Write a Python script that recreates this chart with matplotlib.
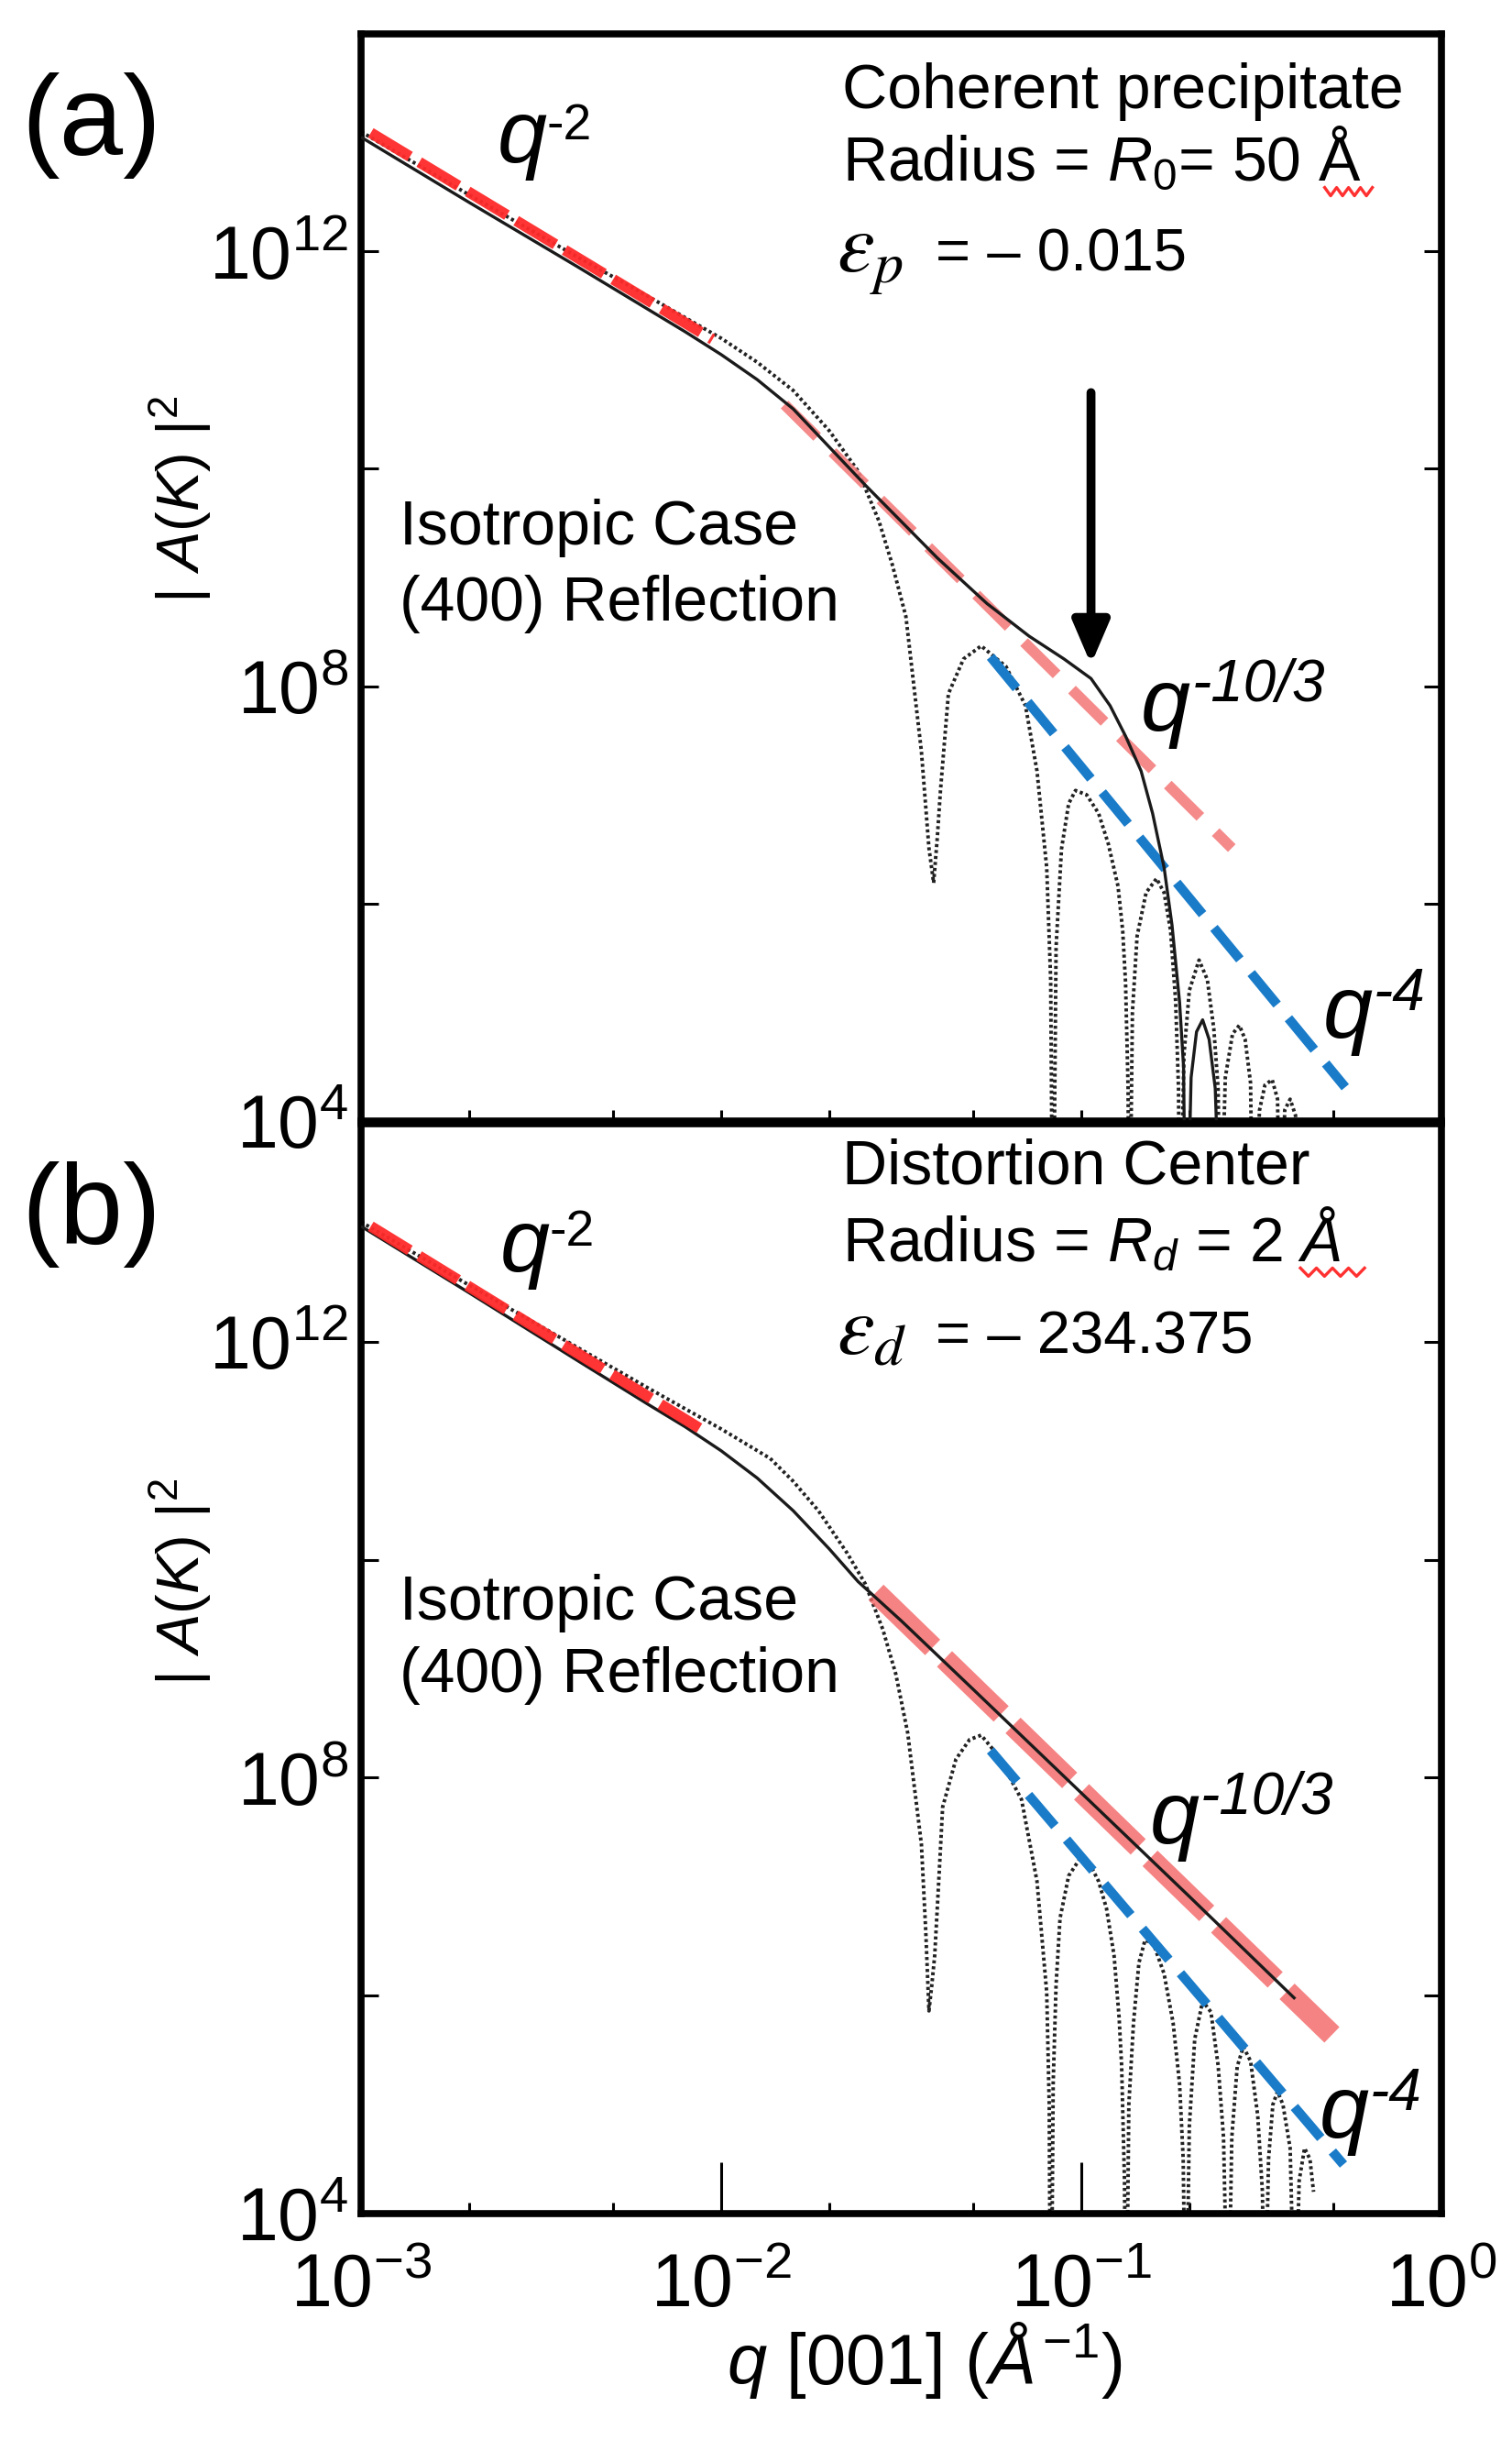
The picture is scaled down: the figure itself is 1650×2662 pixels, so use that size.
import numpy as np
import matplotlib
matplotlib.use("Agg")
import matplotlib.pyplot as plt
from matplotlib.lines import Line2D
from matplotlib.ticker import FixedLocator, FixedFormatter, NullFormatter, NullLocator

plt.rcParams['font.family'] = ['Liberation Sans', 'DejaVu Sans']
plt.rcParams['mathtext.fontset'] = 'custom'
plt.rcParams['mathtext.rm'] = 'Liberation Sans'
plt.rcParams['mathtext.it'] = 'Liberation Sans:italic'
plt.rcParams['mathtext.bf'] = 'Liberation Sans:bold'
plt.rcParams['mathtext.sf'] = 'Liberation Sans'
plt.rcParams['lines.scale_dashes'] = False

# ---------------- data (log10 values) ----------------
x_decades = [-3, -2, -1, 0]
x_tick_labels = [r'$10^{-3}$', r'$10^{-2}$', r'$10^{-1}$', r'$10^{0}$']
x_minor = [2e-3, 5e-3, 2e-2, 5e-2, 2e-1, 5e-1]
y_major = [4, 6, 8, 10, 12, 14]
y_tick_labels = [r'$10^{4}$', '', r'$10^{8}$', '', r'$10^{12}$', '']

# ---- panel (a): coherent precipitate ----
a_solid_logq = [-3.0, -2.7, -2.4, -2.2, -2.1, -2.0, -1.9, -1.8, -1.7, -1.6, -1.4, -1.262, -1.145,
                -1.048, -0.973, -0.920, -0.877, -0.834, -0.802, -0.770, -0.748, -0.727, -0.716, -0.711]
a_solid_logI = [13.05, 12.45, 11.86, 11.46, 11.26, 11.05, 10.82, 10.55, 10.20, 9.85, 9.18, 8.76, 8.46,
                8.25, 8.07, 7.82, 7.54, 7.22, 6.83, 6.33, 5.80, 5.09, 4.50, 3.00]
a_lobe_logq = [-0.705, -0.695, -0.680, -0.663, -0.645, -0.628, -0.615]
a_lobe_logI = [3.00, 4.40, 4.82, 4.93, 4.75, 4.30, 3.00]
a_dot_logq = [-3.0, -2.7, -2.4, -2.2, -2.0, -1.9, -1.8, -1.7, -1.62, -1.562, -1.525, -1.487,
              -1.444, -1.423, -1.410, -1.400, -1.391, -1.369, -1.327, -1.278, -1.209, -1.155,
              -1.123, -1.096, -1.085, -1.080,
              -1.077, -1.070, -1.055, -1.035, -1.016, -0.985, -0.952, -0.925, -0.898, -0.885,
              -0.877, -0.870, -0.868,
              -0.865, -0.858, -0.845, -0.820, -0.791, -0.770, -0.752, -0.738, -0.730, -0.727,
              -0.724, -0.715, -0.700, -0.673, -0.650, -0.632, -0.620, -0.615,
              -0.612, -0.600, -0.580, -0.561, -0.545, -0.530, -0.524,
              -0.521, -0.505, -0.490, -0.470, -0.455, -0.449,
              -0.445, -0.435, -0.420, -0.405, -0.400]
a_dot_logI = [13.10, 12.52, 11.95, 11.58, 11.20, 10.98, 10.72, 10.35, 9.98, 9.52, 9.12, 8.64,
              7.40, 6.51, 6.19, 6.60, 7.04, 7.93, 8.25, 8.37, 8.18, 7.82,
              7.22, 6.33, 5.30, 3.00,
              3.00, 5.60, 6.50, 6.92, 7.04, 7.00, 6.83, 6.55, 6.16, 5.75,
              5.27, 4.30, 3.00,
              3.00, 5.00, 5.70, 6.10, 6.23, 6.10, 5.75, 5.10, 4.30, 3.00,
              3.00, 4.60, 5.20, 5.48, 5.30, 4.85, 4.30, 3.00,
              3.00, 4.40, 4.80, 4.88, 4.75, 4.35, 3.00,
              3.00, 4.10, 4.33, 4.38, 4.20, 3.00,
              3.00, 4.10, 4.20, 4.05, 3.00]
a_q2_logq, a_q2_logI = [-2.973, -2.024], [13.09, 11.19]
a_q103_logq, a_q103_logI = [-1.824, -0.582], [10.59, 6.51]
a_q4_logq, a_q4_logI = [-1.252, -0.267], [8.27, 4.31]
a_arrow_logq, a_arrow_logI_top, a_arrow_logI_tip = -0.973, 10.70, 8.20

# ---- panel (b): distortion center ----
b_solid_logq = [-3.0, -2.7, -2.4, -2.2, -2.1, -2.0, -1.9, -1.8, -1.7, -1.62, -1.5, -1.3, -1.0, -0.7, -0.406]
b_solid_logI = [13.06, 12.45, 11.83, 11.42, 11.22, 11.00, 10.75, 10.45, 10.10, 9.80, 9.44, 8.81, 7.86, 6.91, 5.97]
b_dot_logq = [-3.0, -2.7, -2.4, -2.2, -2.0, -1.864, -1.8, -1.73, -1.65, -1.6, -1.551, -1.515,
              -1.482, -1.444, -1.432, -1.423, -1.415, -1.407, -1.395, -1.385, -1.348, -1.310,
              -1.278, -1.230, -1.166, -1.123, -1.096, -1.089, -1.086,
              -1.083, -1.078, -1.070, -1.059, -1.035, -1.005, -0.975, -0.952, -0.930, -0.909,
              -0.895, -0.888, -0.880, -0.877,
              -0.874, -0.868, -0.855, -0.840, -0.823, -0.800, -0.770, -0.745, -0.727, -0.717, -0.711,
              -0.708, -0.700, -0.685, -0.663, -0.640, -0.620, -0.605, -0.594,
              -0.591, -0.582, -0.567, -0.550, -0.530, -0.510, -0.497, -0.492,
              -0.489, -0.480, -0.468, -0.455, -0.440, -0.420, -0.408,
              -0.405, -0.395, -0.380, -0.365, -0.355]
b_dot_logI = [13.10, 12.52, 11.95, 11.57, 11.20, 10.93, 10.72, 10.45, 10.06, 9.78, 9.36, 8.95,
              8.41, 7.39, 6.60, 5.86, 6.10, 6.37, 7.10, 7.73, 8.17, 8.35,
              8.39, 8.20, 7.80, 7.05, 6.03, 5.00, 3.00,
              3.00, 5.20, 6.10, 6.71, 7.10, 7.25, 7.20, 7.05, 6.80, 6.37,
              5.80, 5.36, 4.30, 3.00,
              3.00, 5.00, 5.75, 6.30, 6.51, 6.48, 6.20, 5.75, 5.19, 4.50, 3.00,
              3.00, 4.80, 5.60, 5.95, 5.85, 5.36, 4.70, 3.00,
              3.00, 4.70, 5.35, 5.53, 5.40, 4.90, 4.20, 3.00,
              3.00, 4.50, 5.00, 5.12, 5.00, 4.60, 3.00,
              3.00, 4.30, 4.60, 4.50, 4.20]
b_q2_logq, b_q2_logI = [-2.973, -2.037], [13.06, 11.16]
b_q103_logq, b_q103_logI = [-1.570, -0.304], [9.70, 5.64]
b_q4_logq, b_q4_logI = [-1.252, -0.272], [8.25, 4.45]


def p(v):
    return 10.0 ** np.asarray(v, dtype=float)


# ---------------- figure ----------------
fig = plt.figure(figsize=(16.5, 26.62), dpi=100)
ax_a = fig.add_axes([0.2388, 0.5406, 0.7145, 0.4455])
ax_b = fig.add_axes([0.2388, 0.0928, 0.7145, 0.4466])

SOLID = dict(color='#1a1a1a', lw=2.4, solid_capstyle='butt')
DOT = dict(color='#222222', lw=2.8, dashes=(2.4, 2.3))
RED1 = dict(color='#ff2a2a', lw=8.5, dashes=(36, 8.5), alpha=0.95)
BLUE = dict(color='#1a7cc9', lw=7.5, dashes=(32, 14))

for ax in (ax_a, ax_b):
    ax.set_xscale('log')
    ax.set_yscale('log')
    ax.set_xlim(1e-3, 1.0)
    ax.set_ylim(1e4, 1e14)
    ax.yaxis.set_major_locator(FixedLocator(p(y_major)))
    ax.yaxis.set_major_formatter(FixedFormatter(y_tick_labels))
    ax.yaxis.set_minor_locator(NullLocator())
    ax.xaxis.set_major_locator(FixedLocator(p(x_decades)))
    ax.xaxis.set_minor_locator(FixedLocator(x_minor))
    ax.xaxis.set_minor_formatter(NullFormatter())
    ax.tick_params(axis='y', which='major', direction='in', length=14, width=2.2,
                   left=True, right=True, labelsize=58, pad=10)
    for s in ax.spines.values():
        s.set_linewidth(5.5)
    ax.patch.set_alpha(0)

ax_a.tick_params(axis='x', which='both', direction='in', length=9, width=2.2,
                 top=False, bottom=True, labelbottom=False)
ax_b.xaxis.set_major_formatter(FixedFormatter(x_tick_labels))
ax_b.tick_params(axis='x', which='major', direction='in', length=40, width=2.2,
                 top=False, labelsize=58, pad=30)
ax_b.tick_params(axis='x', which='minor', direction='in', length=9, width=2.2, top=False)

# ---- panel (a) curves ----
ax_a.plot(p(a_dot_logq), p(a_dot_logI), zorder=2, **DOT)
ax_a.plot(p(a_solid_logq), p(a_solid_logI), zorder=4, **SOLID)
ax_a.plot(p(a_lobe_logq), p(a_lobe_logI), zorder=4, **SOLID)
ax_a.plot(p(a_q2_logq), p(a_q2_logI), zorder=5, **RED1)
ax_a.plot(p(a_q103_logq), p(a_q103_logI), color='#f47d7d', lw=8.5, dashes=(36, 17),
          alpha=0.9, zorder=3)
ax_a.plot(p(a_q4_logq), p(a_q4_logI), zorder=3, **BLUE)
ax_a.annotate('', xy=(10 ** a_arrow_logq, 10 ** a_arrow_logI_tip),
              xytext=(10 ** a_arrow_logq, 10 ** a_arrow_logI_top),
              arrowprops=dict(arrowstyle='-|>,head_length=1.4,head_width=0.6',
                              mutation_scale=20, lw=7, color='black',
                              shrinkA=0, shrinkB=0), zorder=6)

# ---- panel (b) curves ----
ax_b.plot(p(b_dot_logq), p(b_dot_logI), zorder=2, **DOT)
ax_b.plot(p(b_solid_logq), p(b_solid_logI), zorder=4, **SOLID)
ax_b.plot(p(b_q2_logq), p(b_q2_logI), zorder=5, **RED1)
ax_b.plot(p(b_q103_logq), p(b_q103_logI), color='#f36464', lw=17, dashes=(62, 13),
          alpha=0.8, zorder=3)
ax_b.plot(p(b_q4_logq), p(b_q4_logI), zorder=3, **BLUE)


# ---------------- text ----------------
def power_label(ax, qx, qy, exp, ey, esize=46, estyle='italic', gap=0.14):
    ax.text(10 ** qx, 10 ** qy, 'q', style='italic', fontsize=70,
            ha='left', va='baseline', zorder=7)
    ax.text(10 ** (qx + gap), 10 ** ey, exp, style=estyle, fontsize=esize,
            ha='left', va='baseline', zorder=7)


power_label(ax_a, -2.621, 12.82, '-2', 13.03, esize=40, estyle='normal', gap=0.135)
power_label(ax_a, -0.834, 7.59, '-10/3', 7.86)
power_label(ax_a, -0.330, 4.77, '-4', 5.02)
power_label(ax_b, -2.613, 12.65, '-2', 12.88, esize=40, estyle='normal', gap=0.135)
power_label(ax_b, -0.810, 7.40, '-10/3', 7.67)
power_label(ax_b, -0.338, 4.70, '-4', 4.95)

TXT = dict(fontsize=49, ha='left', va='baseline')
ax_a.text(0.445, 0.932, 'Coherent precipitate', transform=ax_a.transAxes, **TXT)
rad_a = ax_a.text(0.445, 0.865, r'Radius = $\mathit{R_0}$= 50 Å', transform=ax_a.transAxes, **TXT)
ax_a.text(0.440, 0.782, r'$\varepsilon_p$', transform=ax_a.transAxes,
          math_fontfamily='stix', fontsize=66, ha='left', va='baseline')
ax_a.text(0.532, 0.782, '= – 0.015', transform=ax_a.transAxes, fontsize=47,
          ha='left', va='baseline')
ax_a.text(0.036, 0.530, 'Isotropic Case', transform=ax_a.transAxes, **TXT)
ax_a.text(0.036, 0.460, '(400) Reflection', transform=ax_a.transAxes, **TXT)

ax_b.text(0.445, 0.945, 'Distortion Center', transform=ax_b.transAxes, **TXT)
rad_b = ax_b.text(0.445, 0.874, r'Radius = $\mathit{R_d}$ = 2 $\mathit{Å}$', transform=ax_b.transAxes, **TXT)
ax_b.text(0.440, 0.789, r'$\varepsilon_d$', transform=ax_b.transAxes,
          math_fontfamily='stix', fontsize=66, ha='left', va='baseline')
ax_b.text(0.532, 0.789, '= – 234.375', transform=ax_b.transAxes, fontsize=47,
          ha='left', va='baseline')
ax_b.text(0.036, 0.545, 'Isotropic Case', transform=ax_b.transAxes, **TXT)
ax_b.text(0.036, 0.479, '(400) Reflection', transform=ax_b.transAxes, **TXT)

for ax, yc in ((ax_a, 0.572), (ax_b, 0.580)):
    ax.set_ylabel(r'$|\ \mathit{A(K)}\ |^{2}$', fontsize=47)
    ax.yaxis.set_label_coords(-0.137, yc)

ax_b.set_xlabel(r'$\mathit{q}$ [001] ($\mathit{Å}^{\mathit{-1}}$)', fontsize=56)
ax_b.xaxis.set_label_coords(0.521, -0.098)

fig.text(0.0606, 0.9485, '(a)', fontsize=90, ha='center', va='center')
fig.text(0.0606, 0.5023, '(b)', fontsize=90, ha='center', va='center')

# red spell-check squiggle under the Å of each "Radius" line (decoration)
fig.canvas.draw()
to_fig = fig.transFigure.inverted()
for ax, t, yfrac, left, right in ((ax_a, rad_a, 0.865, 40, 12), (ax_b, rad_b, 0.874, 44, 26)):
    bb = t.get_window_extent()
    base = ax.transAxes.transform((0, yfrac))[1]
    n = 8
    xs = np.linspace(bb.x1 - left, bb.x1 + right, n + 1)
    ys = base - 12 + np.where(np.arange(n + 1) % 2 == 0, 4.5, -4.5)
    pts = to_fig.transform(np.column_stack([xs, ys]))
    fig.add_artist(Line2D(pts[:, 0], pts[:, 1], transform=fig.transFigure,
                          color='#ff3030', lw=2.4, solid_joinstyle='round'))

fig.savefig('out.png', dpi=100)
